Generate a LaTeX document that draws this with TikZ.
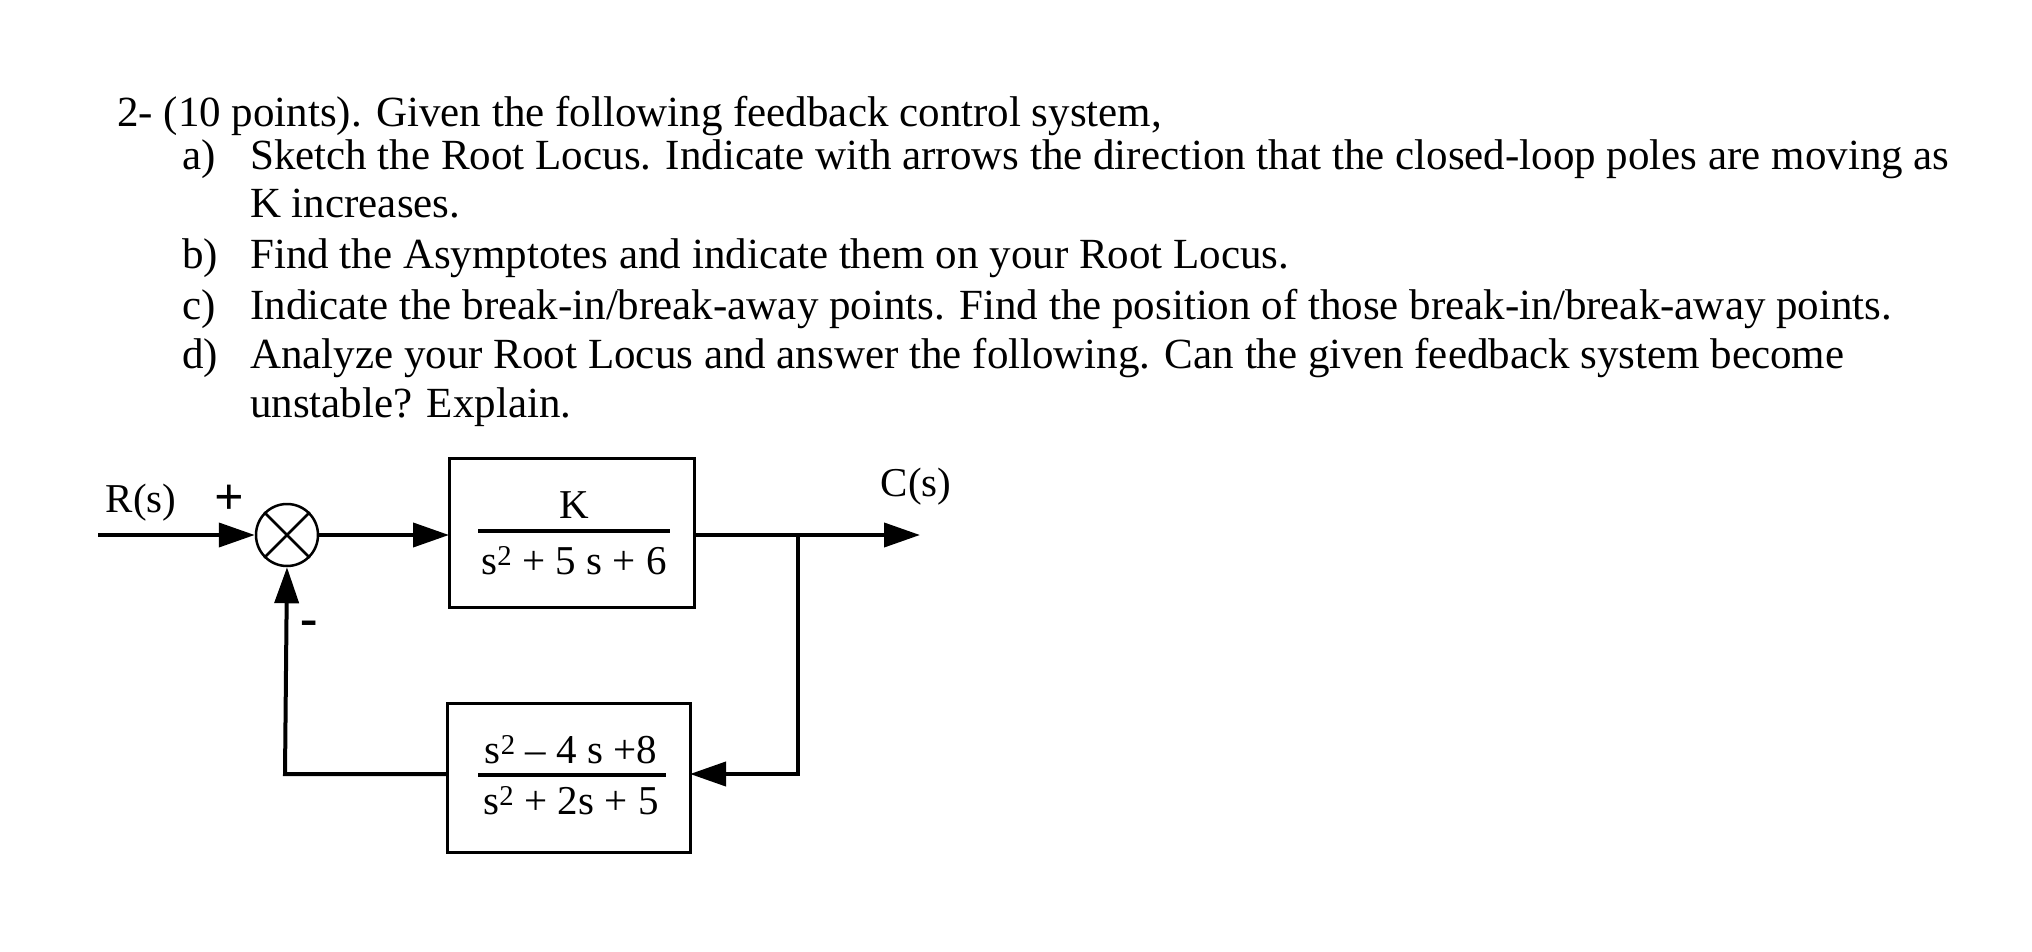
\documentclass[tikz,border=0pt]{standalone}
\usepackage{fontspec}
\setmainfont{Liberation Serif}
\usetikzlibrary{arrows.meta}
\begin{document}
\begin{tikzpicture}[x=1pt,y=-1pt,
  txt/.style={anchor=base west,inner sep=0,font=\fontsize{43}{50}\selectfont},
  lab/.style={inner sep=0,font=\fontsize{41}{46}\selectfont},
  blk/.style={draw,line width=3pt},
  sig/.style={line width=4pt,-{Triangle[length=36pt,width=24pt]}},
  ln/.style={line width=4pt}]
\useasboundingbox (0,0) rectangle (2032,952);
\node[txt] (t0) at (117,127) {2- (10 points). Given the following feedback control system,};
\node[txt] (la) at (182,170) {a)};
\node[txt] (ta) at (250,170) {Sketch the Root Locus. Indicate with arrows the direction that the closed-loop poles are moving as};
\node[txt] (ta2) at (250,218) {K increases.};
\node[txt] (lb) at (182,269) {b)};
\node[txt] (tb) at (250,269) {Find the Asymptotes and indicate them on your Root Locus.};
\node[txt] (lc) at (182,319) {c)};
\node[txt] (tc) at (250,319) {Indicate the break-in/break-away points. Find the position of those break-in/break-away points.};
\node[txt] (ld) at (182,368) {d)};
\node[txt] (td) at (250,368) {Analyze your Root Locus and answer the following. Can the given feedback system become};
\node[txt] (td2) at (250,417) {unstable? Explain.};
% diagram
\coordinate (in) at (98,535);
\node[draw,circle,line width=2.5pt,minimum size=62pt,inner sep=0] (sum) at (287,535) {};
\draw[line width=2.5pt] (sum.north east)--(sum.south west) (sum.north west)--(sum.south east);
\node[lab] (R) at (141,503) {R(s)};
\node[font=\fontsize{52}{52}\selectfont\bfseries,inner sep=0] (plus) at (229,500) {+};
\node[font=\fontsize{52}{52}\selectfont\bfseries,inner sep=0] (minus) at (309,628) {-};
\draw[blk] (449,458) rectangle (694,607);
\node[lab] (gn) at (574,505) {K};
\draw[line width=4pt] (478,531) -- (670,531);
\node[lab] (gd) at (574,561) {s\textsuperscript{2} + 5 s + 6};
\draw[blk] (447,703) rectangle (690,852);
\node[lab] (hn) at (571,750) {s\textsuperscript{2} -- 4 s +8};
\draw[line width=4pt] (478,775) -- (666,775);
\node[lab] (hd) at (571,801) {s\textsuperscript{2} + 2s + 5};
\node[lab] (C) at (916,487) {C(s)};
\coordinate (gin) at (449,535);
\coordinate (gout) at (694,535);
\coordinate (br) at (798,535);
\coordinate (out) at (920,535);
\coordinate (hin) at (690,774);
\coordinate (hout) at (447,774);
\coordinate (fb) at (285,774);
\draw[sig] (in) -- (sum.west);
\draw[sig] (sum.east) -- (gin);
\draw[sig] (gout) -- (out);
\draw[sig] (br) |- (hin);
\draw[sig] (hout) -- (fb) -- (sum.south);
\end{tikzpicture}
\end{document}
